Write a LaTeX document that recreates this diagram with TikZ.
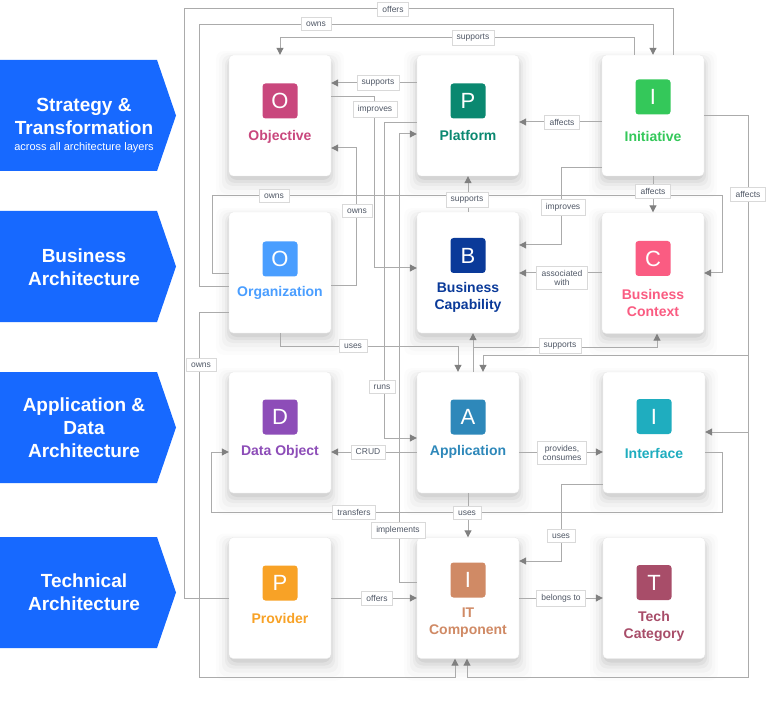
\documentclass[tikz,border=0pt]{standalone}
\usepackage{fontspec}
\setmainfont{Liberation Sans}
\usetikzlibrary{arrows.meta,calc}
\definecolor{cObj}{HTML}{C9477D}
\definecolor{cPlat}{HTML}{0A8870}
\definecolor{cInit}{HTML}{34C85A}
\definecolor{cOrg}{HTML}{4A9EFF}
\definecolor{cBcap}{HTML}{0A3A99}
\definecolor{cBctx}{HTML}{FA5C82}
\definecolor{cDobj}{HTML}{8D4DB8}
\definecolor{cApp}{HTML}{2E88BA}
\definecolor{cIntf}{HTML}{1FADBF}
\definecolor{cProv}{HTML}{F8A226}
\definecolor{cItc}{HTML}{D08A65}
\definecolor{cTcat}{HTML}{A84D69}
\definecolor{cBanner}{HTML}{1769FF}
\definecolor{cLine}{HTML}{ABABAB}
\definecolor{cTip}{HTML}{808080}
\definecolor{cLab}{HTML}{505866}
\begin{document}
\begin{tikzpicture}[x=1pt,y=-1pt,
  ebox/.style={draw=black!9, fill=white, rounded corners=4pt, minimum width=102pt, minimum height=121pt, inner sep=0pt},
  shadowlayer/.style={fill=black, draw=none, rounded corners=8pt},
  icon/.style={rounded corners=3pt, minimum width=35pt, minimum height=35pt, inner sep=0pt, text=white, font=\fontsize{22}{22}\selectfont},
  blabel/.style={font=\fontsize{14}{17}\selectfont\bfseries, align=center, inner sep=0pt},
  elabel/.style={draw=black!15, fill=white, text=cLab, font=\fontsize{8.5}{10}\selectfont, inner xsep=5pt, inner ysep=4pt, align=center},
  banner/.style={fill=cBanner, draw=none},
  btext/.style={text=white, font=\fontsize{19}{23}\selectfont\bfseries, align=center, inner sep=0pt},
  conn/.style={draw=cLine, line width=1pt},
  arr/.style={conn, -{Triangle[length=7pt,width=7pt,color=cTip]}}
]
\useasboundingbox[fill=white] (0,0) rectangle (768,703);

% ---------- banners ----------
\fill[banner] (0,60) -- (157,60) -- (176,115.5) -- (157,171) -- (0,171) -- cycle;
\fill[banner] (0,211) -- (157,211) -- (176,266.5) -- (157,322) -- (0,322) -- cycle;
\fill[banner] (0,372) -- (157,372) -- (176,427.5) -- (157,483) -- (0,483) -- cycle;
\fill[banner] (0,537) -- (157,537) -- (176,592.5) -- (157,648) -- (0,648) -- cycle;
\node[btext] (b1) at (84,116.5) {Strategy \&\\Transformation};
\node[text=white, font=\fontsize{11}{12}\selectfont, inner sep=0pt] (b1s) at (84,148) {across all architecture layers};
\node[btext] (b2) at (84,267.5) {Business\\Architecture};
\node[btext] (b3) at (84,428) {Application \&\\Data\\Architecture};
\node[btext] (b4) at (84,592.5) {Technical\\Architecture};

% ---------- soft shadows under the boxes ----------
\foreach \cx/\cy in {280/115.5,468/115.5,653/115.5,280/272.5,468/272.5,653/273,280/432.5,468/432.5,654/432.5,280/598,468/598,654/598}{
  \foreach \s/\dy/\op in {13/9/0.012,10/8/0.016,7/7/0.022,4/6/0.03,2/5/0.04,0/4/0.05}{
    \fill[shadowlayer, opacity=\op] (\cx-51-\s,\cy-60.5-\s+\dy) rectangle (\cx+51+\s,\cy+60.5+\s+\dy);
  }
}

% ---------- boxes ----------
\node[ebox] (obj)  at (280,115.5) {};
\node[ebox] (plat) at (468,115.5) {};
\node[ebox] (init) at (653,115.5) {};
\node[ebox] (org)  at (280,272.5) {};
\node[ebox] (bcap) at (468,272.5) {};
\node[ebox] (bctx) at (653,273) {};
\node[ebox] (dobj) at (280,432.5) {};
\node[ebox] (app)  at (468,432.5) {};
\node[ebox] (intf) at (654,432.5) {};
\node[ebox] (prov) at (280,598) {};
\node[ebox] (itc)  at (468,598) {};
\node[ebox] (tcat) at (654,598) {};

% ---------- connectors ----------
% Provider -- Initiative (offers, outer loop)
\draw[conn] (prov.west) -- (184,598) -- (184,9) -- (673,9) -- (init.north -| 673,0);
% Organization owns Initiative
\draw[arr] (org.west |- 0,287) -- (199,287) -- (199,25) -- (653,25) -- (init.north -| 653,0);
% Initiative supports Objective
\draw[arr] (init.north -| 634,0) -- (634,38) -- (280,38) -- (obj.north);
% Platform supports Objective
\draw[arr] (plat.west |- 0,83) -- (obj.east |- 0,83);
% Objective improves Business Capability
\draw[arr] (obj.east |- 0,97) -- (374,97) -- (374,268) -- (bcap.west |- 0,268);
% Organization owns Objective
\draw[arr] (org.east |- 0,286) -- (356,286) -- (356,148) -- (obj.east |- 0,148);
% Initiative affects Platform
\draw[arr] (init.west |- 0,122) -- (plat.east |- 0,122);
% Business Capability supports Platform
\draw[arr] (bcap.north) -- (plat.south);
% Initiative improves Business Capability
\draw[arr] (init.west |- 0,168) -- (561,168) -- (561,245) -- (bcap.east |- 0,245);
% Business Context associated with Business Capability
\draw[arr] (bctx.west |- 0,273) -- (bcap.east |- 0,273);
% Organization owns Business Context
\draw[arr] (org.west |- 0,274) -- (212,274) -- (212,196) -- (722,196) -- (722,273) -- (bctx.east |- 0,273);
% Initiative affects Business Context
\draw[arr] (init.south) -- (bctx.north);
% Initiative affects (trunk) -> IT Component, Application, Interface
\draw[arr] (init.east |- 0,116) -- (748,116) -- (748,677) -- (467,677) -- (itc.south -| 467,0);
\draw[arr] (748,355) -- (483,355) -- (app.north -| 483,0);
\draw[arr] (748,432) -- (intf.east |- 0,432);
% Organization uses Application
\draw[arr] (org.south) -- (280,346) -- (458,346) -- (app.north -| 458,0);
% Application supports Business Capability and Business Context
\draw[arr] (app.north -| 473,0) -- (bcap.south -| 473,0);
\draw[arr] (473,347) -- (657,347) -- (bctx.south -| 657,0);
% Platform runs Application
\draw[arr] (plat.west |- 0,123) -- (384,123) -- (384,438) -- (app.west |- 0,438);
% IT Component implements Platform
\draw[arr] (itc.west |- 0,582) -- (399,582) -- (399,134) -- (plat.west |- 0,134);
% Application CRUD Data Object
\draw[arr] (app.west |- 0,452) -- (dobj.east |- 0,452);
% Application provides/consumes Interface
\draw[arr] (app.east |- 0,452) -- (intf.west |- 0,452);
% Application uses IT Component
\draw[arr] (app.south) -- (itc.north);
% Interface transfers Data Object
\draw[arr] (intf.east |- 0,452) -- (722,452) -- (722,512) -- (211,512) -- (211,452) -- (dobj.west |- 0,452);
% Interface uses IT Component
\draw[arr] (intf.west |- 0,484) -- (561,484) -- (561,561) -- (itc.east |- 0,561);
% IT Component belongs to Tech Category
\draw[arr] (itc.east |- 0,598) -- (tcat.west |- 0,598);
% Provider offers IT Component
\draw[arr] (prov.east) -- (itc.west |- 0,598);
% Organization owns IT Component
\draw[arr] (org.west |- 0,312) -- (199,312) -- (199,677) -- (455,677) -- (itc.south -| 455,0);

% ---------- connector labels ----------
\node[elabel] (l1)  at (393,9)   {offers};
\node[elabel] (l2)  at (316,24)  {owns};
\node[elabel] (l3)  at (473,38)  {supports};
\node[elabel] (l4)  at (378,83)  {supports};
\node[elabel] (l5)  at (375,109) {improves};
\node[elabel] (l6)  at (357,211) {owns};
\node[elabel] (l7)  at (562,122) {affects};
\node[elabel] (l8)  at (467,200) {supports};
\node[elabel] (l9)  at (563,207) {improves};
\node[elabel] (l10) at (562,278) {associated\\[-1pt]with};
\node[elabel] (l11) at (274,196) {owns};
\node[elabel] (l12) at (653,191) {affects};
\node[elabel] (l13) at (748,194) {affects};
\node[elabel] (l14) at (353,346) {uses};
\node[elabel] (l15) at (560,346) {supports};
\node[elabel] (l16) at (382,387) {runs};
\node[elabel] (l17) at (398,530) {implements};
\node[elabel] (l18) at (368,452) {CRUD};
\node[elabel] (l19) at (562,453) {provides,\\[-1pt]consumes};
\node[elabel] (l20) at (467,513) {uses};
\node[elabel] (l21) at (354,512) {transfers};
\node[elabel] (l22) at (561,536) {uses};
\node[elabel] (l23) at (561,598) {belongs to};
\node[elabel] (l24) at (377,598) {offers};
\node[elabel] (l25) at (201,365) {owns};

% ---------- icons and titles ----------
\node[icon, fill=cObj]  (obj-i)  at (280,101) {O};
\node[blabel, text=cObj] (obj-t) at (280,137) {Objective};
\node[icon, fill=cPlat] (plat-i) at (468,101) {P};
\node[blabel, text=cPlat] (plat-t) at (468,135) {Platform};
\node[icon, fill=cInit] (init-i) at (653,97) {I};
\node[blabel, text=cInit] (init-t) at (653,136) {Initiative};
\node[icon, fill=cOrg]  (org-i)  at (280,259) {O};
\node[blabel, text=cOrg] (org-t) at (280,293) {Organization};
\node[icon, fill=cBcap] (bcap-i) at (468,255.5) {B};
\node[blabel, text=cBcap] (bcap-t) at (468,297.5) {Business\\Capability};
\node[icon, fill=cBctx] (bctx-i) at (653,258.5) {C};
\node[blabel, text=cBctx] (bctx-t) at (653,302.5) {Business\\Context};
\node[icon, fill=cDobj] (dobj-i) at (280,417) {D};
\node[blabel, text=cDobj] (dobj-t) at (280,452) {Data Object};
\node[icon, fill=cApp]  (app-i)  at (468,417) {A};
\node[blabel, text=cApp] (app-t) at (468,452) {Application};
\node[icon, fill=cIntf] (intf-i) at (654,416.5) {I};
\node[blabel, text=cIntf] (intf-t) at (654,453) {Interface};
\node[icon, fill=cProv] (prov-i) at (280,583) {P};
\node[blabel, text=cProv] (prov-t) at (280,618) {Provider};
\node[icon, fill=cItc]  (itc-i)  at (468,580) {I};
\node[blabel, text=cItc] (itc-t) at (468,622.5) {IT\\Component};
\node[icon, fill=cTcat] (tcat-i) at (654,582.5) {T};
\node[blabel, text=cTcat] (tcat-t) at (654,626.5) {Tech\\Category};
\end{tikzpicture}
\end{document}
